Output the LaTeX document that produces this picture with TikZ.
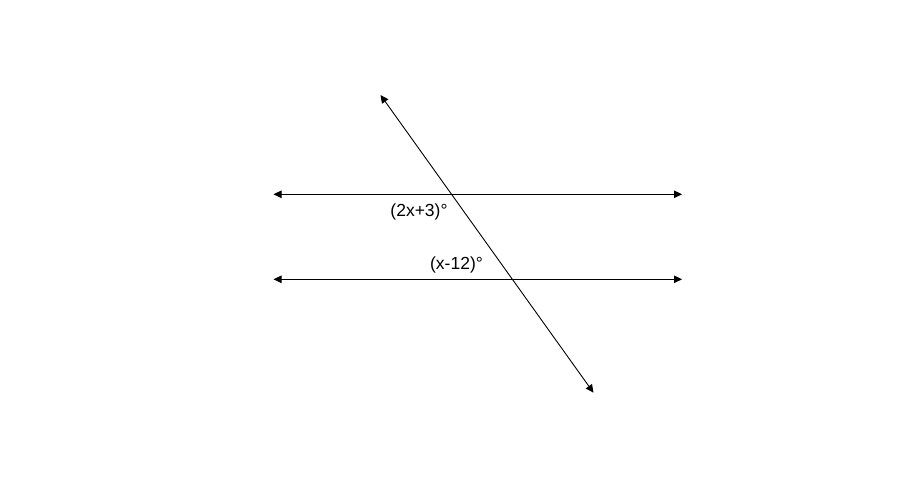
\documentclass[tikz,border=0pt]{standalone}
\usepackage{fontspec}
\setmainfont{Liberation Sans}
\usetikzlibrary{arrows.meta}
\begin{document}
\begin{tikzpicture}[x=1pt,y=-1pt,
  ray/.style={line width=0.9pt,{Triangle[length=8pt,width=7.5pt]}-{Triangle[length=8pt,width=7.5pt]}},
  lbl/.style={inner sep=0pt,font=\fontsize{17.5}{19}\selectfont}]
\useasboundingbox[fill=white] (0,0) rectangle (917,502);
\coordinate (u1) at (273.5,194.3);
\coordinate (u2) at (682,194.3);
\coordinate (l1) at (273.5,279.3);
\coordinate (l2) at (682,279.3);
\coordinate (t1) at (380.5,95);
\coordinate (t2) at (593.5,392.7);
\draw[ray] (u1) -- (u2);
\draw[ray] (l1) -- (l2);
\draw[ray] (t1) -- (t2);
\node[lbl] (a) at (419,211.5) {(2x+3)°};
\node[lbl] (b) at (456.5,265) {(x-12)°};
\end{tikzpicture}
\end{document}
